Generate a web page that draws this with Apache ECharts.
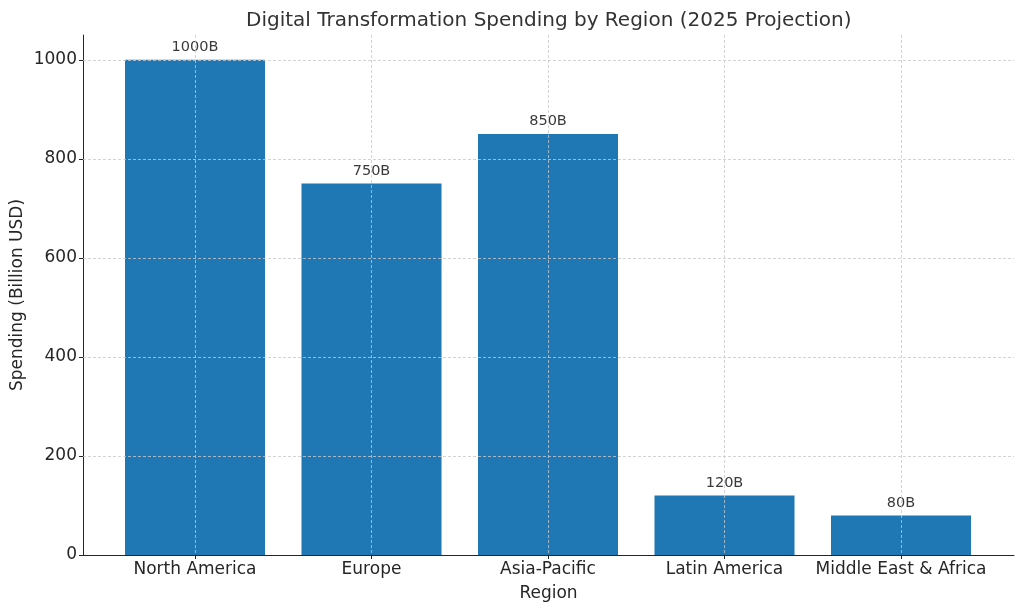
<!DOCTYPE html>
<html>
<head>
<meta charset="utf-8">
<script src="https://cdn.jsdelivr.net/npm/echarts@6/dist/echarts.min.js"></script>
<style>
  html, body { margin: 0; padding: 0; background: #fff; }
  #chart { width: 1024px; height: 611px; }
</style>
</head>
<body>
<div id="chart"></div>
<script>
// data
var regions = ['North America', 'Europe', 'Asia-Pacific', 'Latin America', 'Middle East & Africa'];
var spending = [1000, 750, 850, 120, 80];
var yTicks = { min: 0, max: 1000, step: 200 };
var yTop = 1050; // axis top

var font = 'DejaVu Sans';
var inkColor = '#262626';
var gridLine = { show: true, showMinLine: false, lineStyle: { color: '#c8c8c8', type: [3, 2], width: 0.8 } };

var chart = echarts.init(document.getElementById('chart'));

var options = {
  animation: false,
  textStyle: { fontFamily: font },
  title: {
    text: 'Digital Transformation Spending by Region (2025 Projection)',
    left: 241,
    top: 6,
    textStyle: { fontFamily: font, fontSize: 20, fontWeight: 'normal', color: '#333' }
  },
  grid: [
    // bars: first and last category sit on the grid edges
    { left: 195, right: 123, top: 35, bottom: 56 },
    // horizontal gridlines and y labels
    { left: 83, right: 10, top: 60, bottom: 56 },
    // spines and axis names
    { left: 83, right: 10, top: 35, bottom: 56 }
  ],
  xAxis: [
    {
      type: 'category',
      gridIndex: 0,
      data: regions,
      boundaryGap: false,
      z: 3,
      axisLine: { show: false },
      axisTick: { show: true, length: 4, lineStyle: { color: inkColor } },
      axisLabel: { fontSize: 17, color: inkColor, margin: 6, interval: 0 },
      splitLine: { show: true, lineStyle: gridLine.lineStyle }
    },
    {
      type: 'value', gridIndex: 1, min: 0, max: 1, show: false
    },
    {
      type: 'value',
      gridIndex: 2,
      min: 0,
      max: 1,
      name: 'Region',
      nameLocation: 'middle',
      nameGap: 30,
      nameTextStyle: { fontSize: 17, color: inkColor },
      axisLine: { show: true, lineStyle: { color: inkColor, width: 1 } },
      axisTick: { show: false },
      axisLabel: { show: false },
      splitLine: { show: false }
    }
  ],
  yAxis: [
    {
      type: 'value', gridIndex: 0, min: 0, max: yTop, show: false
    },
    {
      type: 'value',
      gridIndex: 1,
      min: yTicks.min,
      max: yTicks.max,
      interval: yTicks.step,
      z: 3,
      axisLine: { show: false },
      axisTick: { show: true, length: 4, lineStyle: { color: inkColor } },
      axisLabel: { fontSize: 17, color: inkColor, margin: 6, formatter: function (v) { return String(v); } },
      splitLine: gridLine
    },
    {
      type: 'value',
      gridIndex: 2,
      min: 0,
      max: 1,
      name: 'Spending (Billion USD)',
      nameLocation: 'middle',
      nameGap: 57,
      nameTextStyle: { fontSize: 17, color: inkColor },
      axisLine: { show: true, lineStyle: { color: inkColor, width: 1 } },
      axisTick: { show: false },
      axisLabel: { show: false },
      splitLine: { show: false }
    }
  ],
  series: [
    {
      type: 'bar',
      xAxisIndex: 0,
      yAxisIndex: 0,
      data: spending,
      barWidth: 140,
      itemStyle: { color: '#1f77b4' },
      label: {
        show: true,
        position: 'top',
        distance: 5,
        fontSize: 14.5,
        color: '#3a3a3a',
        formatter: function (p) { return p.value + 'B'; }
      }
    }
  ]
};

chart.setOption(options);
</script>
</body>
</html>
